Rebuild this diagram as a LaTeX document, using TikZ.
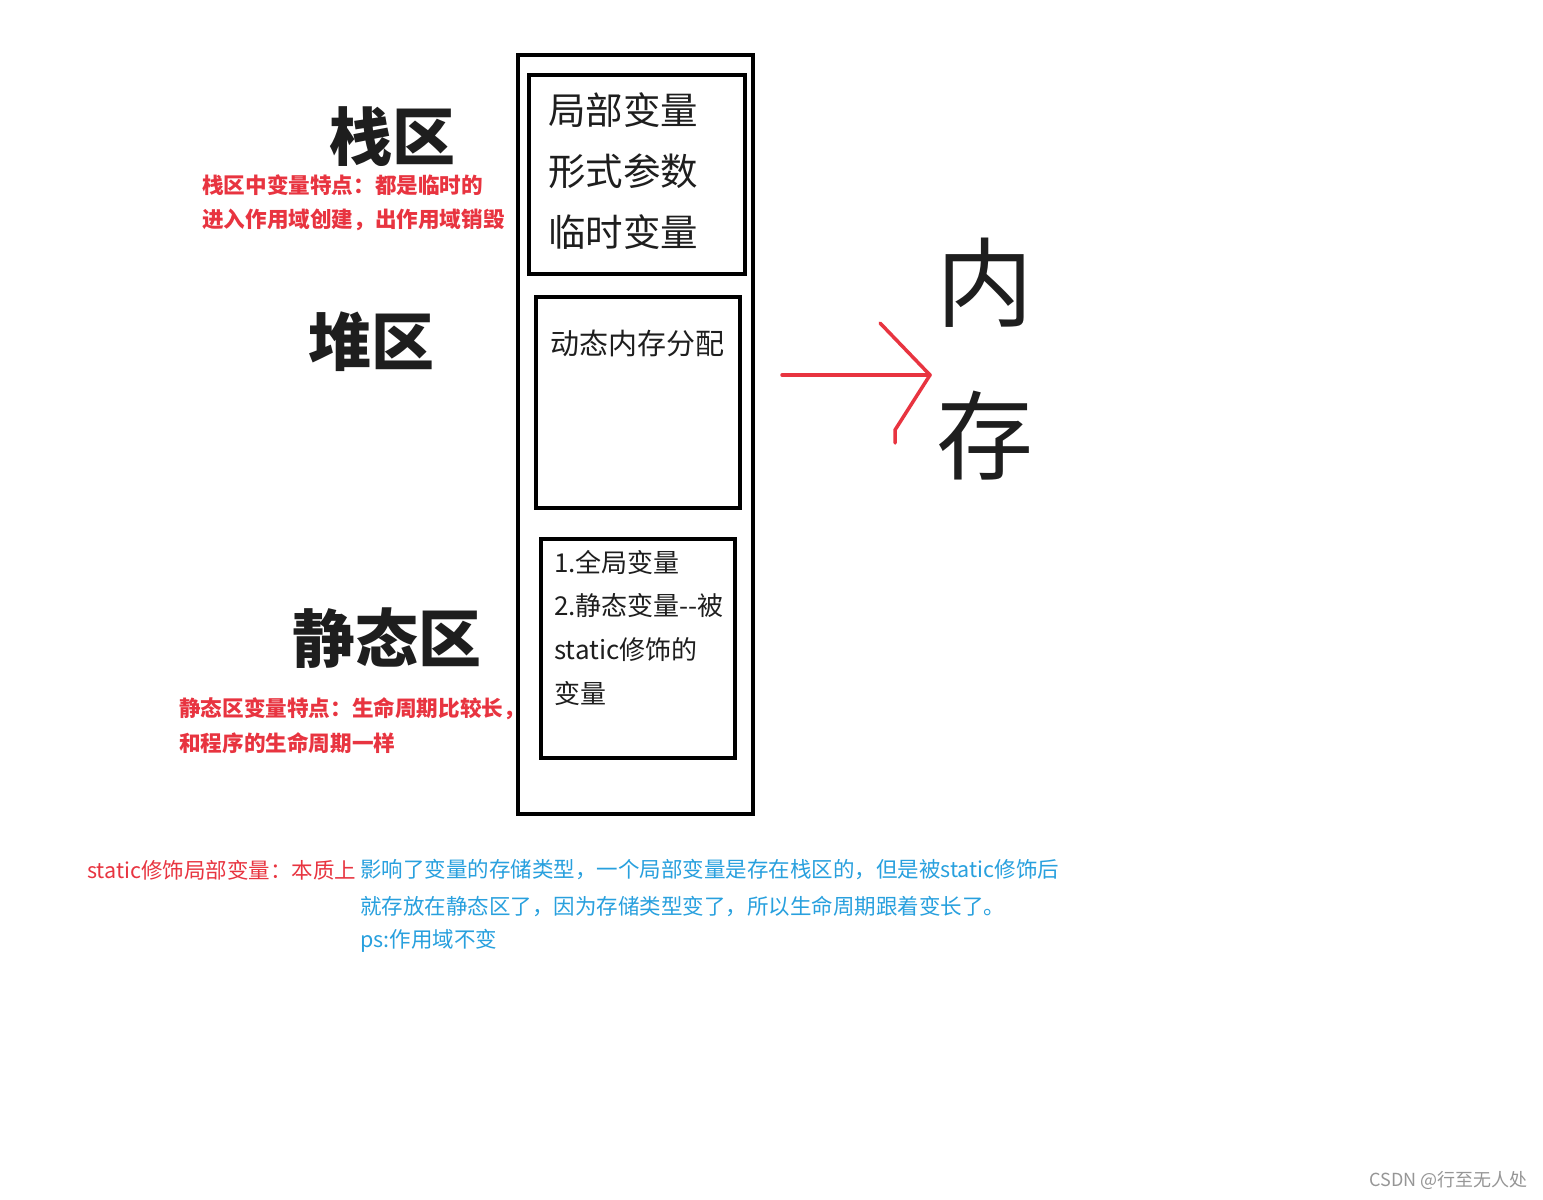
\documentclass[tikz,border=0pt]{standalone}
\usepackage{fontspec}
\setmainfont{Noto Sans CJK SC}
\definecolor{myred}{RGB}{232,52,64}
\definecolor{myblue}{RGB}{40,160,222}
\definecolor{mygray}{RGB}{150,150,150}
\definecolor{ink}{RGB}{30,30,30}
\begin{document}
\begin{tikzpicture}[x=1pt,y=-1pt,
  box/.style={draw=black,line width=4pt},
  txt/.style={anchor=west,inner sep=0pt,text=ink},
  big/.style={anchor=center,inner sep=0pt,text=ink,font=\fontsize{63}{63}\selectfont\bfseries},
  rednote/.style={anchor=west,inner sep=0pt,text=myred,font=\fontsize{21.6}{21.6}\selectfont\bfseries},
  bluenote/.style={anchor=west,inner sep=0pt,text=myblue,font=\fontsize{21.5}{21.5}\selectfont}]
\useasboundingbox[fill=white] (0,0) rectangle (1543,1200);
% boxes
\draw[box] (518,55) rectangle (753,814);
\draw[box] (529,75) rectangle (745,274);
\draw[box] (536,297) rectangle (740,508);
\draw[box] (541,539) rectangle (735,758);
% box texts
\node[txt,font=\fontsize{37.5}{37.5}\selectfont] (t1) at (548,110) {局部变量};
\node[txt,font=\fontsize{37.5}{37.5}\selectfont] (t2) at (548,171) {形式参数};
\node[txt,font=\fontsize{37.5}{37.5}\selectfont] (t3) at (548,232) {临时变量};
\node[txt,font=\fontsize{29}{29}\selectfont] (h1) at (550,343) {动态内存分配};
\node[txt,font=\fontsize{26}{26}\selectfont] (s1) at (554,562) {1.全局变量};
\node[txt,font=\fontsize{26}{26}\selectfont] (s2) at (554,606) {2.静态变量-{}-被};
\node[txt,font=\fontsize{26}{26}\selectfont] (s3) at (554,650) {static修饰的};
\node[txt,font=\fontsize{26}{26}\selectfont] (s4) at (554,694) {变量};
% big labels
\node[big] (stack) at (392,137) {栈区};
\node[big] (heap) at (371,342) {堆区};
\node[big] (static) at (387,638) {静态区};
\node[rednote] (r1) at (202,185) {栈区中变量特点：都是临时的};
\node[rednote] (r2) at (202,220) {进入作用域创建，出作用域销毁};
\node[rednote] (r3) at (179,709) {静态区变量特点：生命周期比较长，};
\node[rednote] (r4) at (179,743) {和程序的生命周期一样};
% memory
\node[anchor=center,inner sep=0pt,text=ink,font=\fontsize{97}{97}\selectfont] (nei) at (985,283) {内};
\node[anchor=center,inner sep=0pt,text=ink,font=\fontsize{97}{97}\selectfont] (cun) at (985,436) {存};
% red hand-drawn arrow
\coordinate (a0) at (782,375);
\coordinate (a1) at (930,375);
\coordinate (a2) at (880,323);
\coordinate (a3) at (895,430);
\coordinate (a4) at (895,443);
\draw[myred,line width=3.5pt,line cap=round,line join=round] (a0) -- (a1);
\draw[myred,line width=3.5pt,line cap=round,line join=round] (a2) -- (a1) -- (a3) -- (a4);
% bottom notes
\node[anchor=west,inner sep=0pt,text=myred,font=\fontsize{21.5}{21.5}\selectfont] (b0) at (87,870) {static修饰局部变量：本质上};
\node[bluenote] (b1) at (360,870) {影响了变量的存储类型，一个局部变量是存在栈区的，但是被static修饰后};
\node[bluenote] (b2) at (360,906) {就存放在静态区了，因为存储类型变了，所以生命周期跟着变长了。};
\node[bluenote] (b3) at (360,941) {ps:作用域不变};
% watermark
\node[anchor=east,inner sep=0pt,text=mygray,font=\fontsize{18}{18}\selectfont] (wm) at (1528,1180) {CSDN @行至无人处};
\end{tikzpicture}
\end{document}
